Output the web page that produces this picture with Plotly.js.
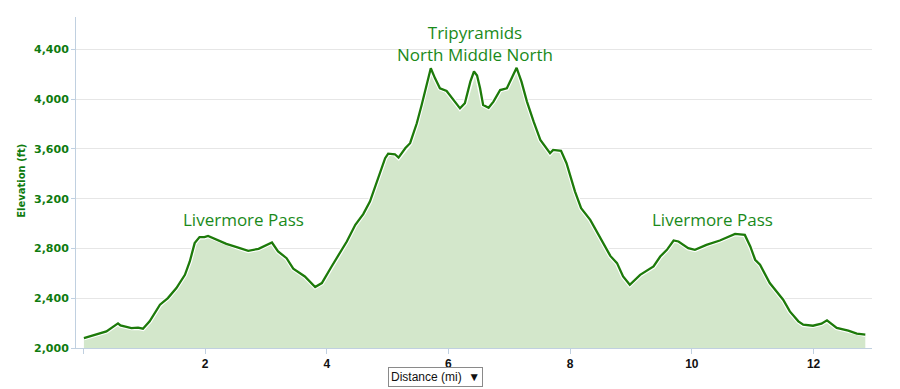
<!DOCTYPE html>
<html>
<head>
<meta charset="utf-8">
<script src="https://cdn.plot.ly/plotly-3.0.1.min.js"></script>
<style>
html,body{margin:0;padding:0;background:#fff;}
#chart{width:900px;height:389px;}
</style>
</head>
<body>
<div id="chart"></div>
<script>
// Distance along trail (miles)
const distanceMi = [0.01,0.13,0.30,0.38,0.57,0.61,0.79,0.90,0.98,1.09,1.26,1.39,1.53,1.67,1.75,1.83,1.91,1.99,2.05,2.21,
  2.35,2.52,2.71,2.88,3.10,3.20,3.34,3.45,3.64,3.81,3.92,4.08,4.25,4.33,4.47,4.60,4.71,4.82,4.96,5.01,
  5.12,5.18,5.29,5.37,5.48,5.56,5.63,5.71,5.78,5.86,5.97,6.08,6.19,6.27,6.36,6.42,6.47,6.52,6.57,6.66,
  6.74,6.85,6.96,7.05,7.12,7.20,7.29,7.40,7.51,7.67,7.72,7.85,7.94,8.08,8.18,8.33,8.52,8.66,8.77,8.87,
  8.98,9.15,9.37,9.48,9.59,9.70,9.78,9.94,10.05,10.24,10.46,10.71,10.87,10.96,11.04,11.12,11.28,11.50,11.61,11.75,
  11.83,11.99,12.13,12.22,12.38,12.57,12.71,12.85];
// Elevation (ft)
const elevationFt = [2080,2099,2123,2133,2198,2181,2160,2163,2155,2214,2348,2401,2482,2588,2695,2843,2891,2891,2901,2869,
  2837,2811,2781,2797,2848,2776,2722,2637,2575,2490,2522,2655,2789,2856,2990,3076,3177,3337,3525,3562,
  3557,3530,3605,3646,3806,3953,4100,4248,4167,4087,4065,3993,3926,3967,4140,4222,4190,4087,3953,3931,
  3980,4073,4087,4180,4252,4140,3980,3819,3672,3565,3592,3584,3485,3257,3124,3030,2856,2740,2682,2575,
  2508,2588,2655,2735,2789,2864,2856,2803,2789,2829,2864,2917,2909,2816,2709,2669,2522,2388,2294,2214,
  2187,2179,2195,2222,2161,2139,2115,2107];
// Axis ticks
const xTickVals = [0,2,4,6,8,10,12];
const xTickText = ['','2','4','6','8','10','12'];
const yTickVals = [2000,2400,2800,3200,3600,4000,4400];
const yTickText = ['2,000','2,400','2,800','3,200','3,600','4,000','4,400'];
// Peak labels
const peakLabels = ['Livermore Pass','Tripyramids<br>North Middle North','Livermore Pass'];
const peakMiles = [2.63, 6.44, 10.34];
const peakElev = [3030, 4445, 3030];

const green = '#0f7b0f';
const lineGreen = '#1d7a0a';

const traces = [
  {x: distanceMi, y: elevationFt, type:'scatter', mode:'lines', fill:'tozeroy',
   fillcolor:'#d3e7cb', line:{color:'#ffffff', width:4.5}, hoverinfo:'skip'},
  {x: distanceMi, y: elevationFt, type:'scatter', mode:'lines',
   line:{color:lineGreen, width:2.3}}
];

const annotations = peakLabels.map((t,i)=>({
  x: peakMiles[i], y: peakElev[i], xref:'x', yref:'y', text:t, showarrow:false,
  font:{family:'Open Sans, sans-serif', size:17, color:'#1a8a1a'}, xanchor:'center', yanchor:'middle'
}));
annotations.push({
  xref:'paper', yref:'paper', x:(22-76)/796, y:0.505, text:'Elevation (ft)', textangle:-90,
  showarrow:false, font:{family:'DejaVu Sans, sans-serif', size:10, color:green, weight:'bold'},
  xanchor:'center', yanchor:'middle'
});
annotations.push({
  xref:'paper', yref:'paper', x:(435-76)/796, y:-(377-348)/331, text:'Distance (mi)&nbsp;&nbsp;▼',
  showarrow:false, font:{family:'Liberation Sans Narrow, Arial Narrow, sans-serif', size:12, color:'#111'},
  bordercolor:'#8a8a8a', borderwidth:1, borderpad:2, bgcolor:'#ffffff',
  xanchor:'center', yanchor:'middle'
});

const layout = {
  width:900, height:389,
  margin:{l:76, r:28, t:17, b:41},
  paper_bgcolor:'#ffffff', plot_bgcolor:'#ffffff',
  showlegend:false,
  xaxis:{range:[-0.12,12.96], tickvals:xTickVals, ticktext:xTickText, showgrid:false, zeroline:false,
    showline:true, linecolor:'#c0d0e0', linewidth:1, ticks:'outside', ticklen:5, tickcolor:'#c0d0e0',
    tickfont:{family:'Liberation Sans Narrow, Arial Narrow, sans-serif', size:12, color:'#111', weight:'bold'}},
  yaxis:{range:[2000,4660], tickvals:yTickVals, ticktext:yTickText, showgrid:true, gridcolor:'#e6e6e6',
    zeroline:false, showline:true, linecolor:'#c0d0e0', linewidth:1, ticks:'outside', ticklen:4,
    tickcolor:'#c0d0e0',
    tickfont:{family:'DejaVu Sans, sans-serif', size:11, color:green, weight:'bold'}},
  annotations: annotations
};

Plotly.newPlot('chart', traces, layout, {displayModeBar:false, staticPlot:true});
</script>
</body>
</html>
